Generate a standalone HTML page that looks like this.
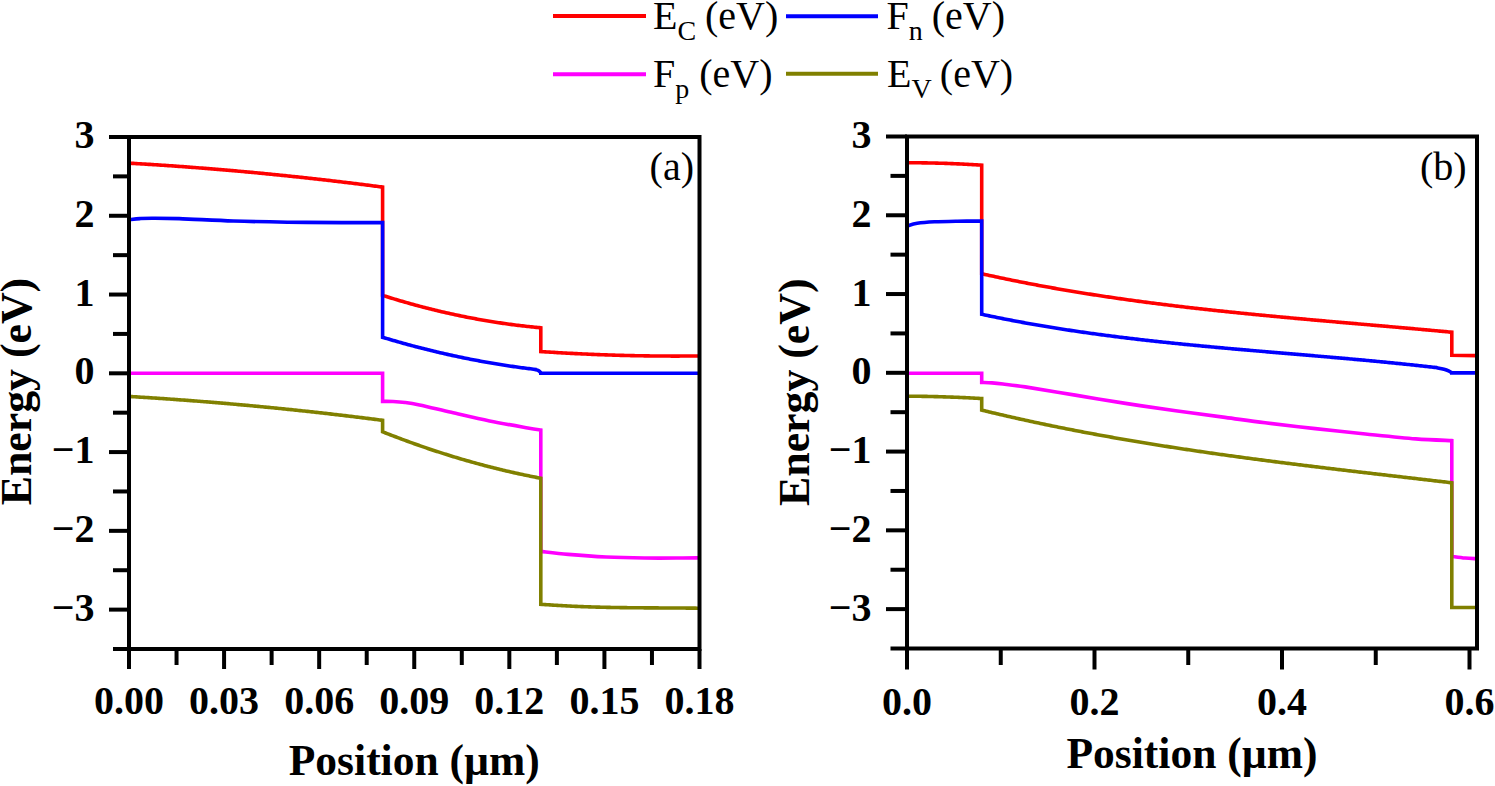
<!DOCTYPE html><html><head><meta charset="utf-8"><style>html,body{margin:0;padding:0;background:#fff;overflow:hidden}svg{display:block}</style></head><body><svg width="1495" height="786" viewBox="0 0 1495 786">
<defs>
<clipPath id="ca"><rect x="129" y="137" width="570.5" height="512"/></clipPath>
<clipPath id="cb"><rect x="907" y="136.5" width="570" height="512"/></clipPath>
</defs>
<rect width="1495" height="786" fill="#fff"/>
<path d="M129.00,163.15 L130.50,163.24 L132.00,163.33 L133.50,163.41 L135.00,163.50 L136.50,163.59 L138.00,163.68 L139.50,163.77 L141.00,163.86 L142.51,163.95 L144.01,164.05 L145.51,164.14 L147.01,164.23 L148.51,164.33 L150.01,164.42 L151.51,164.52 L153.01,164.61 L154.51,164.71 L156.01,164.81 L157.51,164.90 L159.01,165.00 L160.51,165.10 L162.01,165.20 L163.51,165.30 L165.01,165.41 L166.51,165.51 L168.02,165.61 L169.52,165.71 L171.02,165.82 L172.52,165.92 L174.02,166.03 L175.52,166.13 L177.02,166.24 L178.52,166.35 L180.02,166.46 L181.52,166.56 L183.02,166.67 L184.52,166.78 L186.02,166.89 L187.52,167.01 L189.02,167.12 L190.52,167.23 L192.02,167.34 L193.53,167.46 L195.03,167.57 L196.53,167.69 L198.03,167.80 L199.53,167.92 L201.03,168.04 L202.53,168.15 L204.03,168.27 L205.53,168.39 L207.03,168.51 L208.53,168.63 L210.03,168.75 L211.53,168.87 L213.03,169.00 L214.53,169.12 L216.03,169.24 L217.53,169.37 L219.04,169.49 L220.54,169.62 L222.04,169.75 L223.54,169.87 L225.04,170.00 L226.54,170.13 L228.04,170.26 L229.54,170.39 L231.04,170.52 L232.54,170.65 L234.04,170.78 L235.54,170.91 L237.04,171.05 L238.54,171.18 L240.04,171.31 L241.54,171.45 L243.04,171.58 L244.55,171.72 L246.05,171.86 L247.55,172.00 L249.05,172.13 L250.55,172.27 L252.05,172.41 L253.55,172.55 L255.05,172.69 L256.55,172.83 L258.05,172.98 L259.55,173.12 L261.05,173.26 L262.55,173.41 L264.05,173.55 L265.55,173.70 L267.05,173.84 L268.56,173.99 L270.06,174.14 L271.56,174.29 L273.06,174.44 L274.56,174.59 L276.06,174.74 L277.56,174.89 L279.06,175.04 L280.56,175.19 L282.06,175.34 L283.56,175.50 L285.06,175.65 L286.56,175.80 L288.06,175.96 L289.56,176.12 L291.06,176.27 L292.56,176.43 L294.07,176.59 L295.57,176.75 L297.07,176.91 L298.57,177.07 L300.07,177.23 L301.57,177.39 L303.07,177.55 L304.57,177.71 L306.07,177.88 L307.57,178.04 L309.07,178.20 L310.57,178.37 L312.07,178.54 L313.57,178.70 L315.07,178.87 L316.57,179.04 L318.07,179.21 L319.58,179.38 L321.08,179.55 L322.58,179.72 L324.08,179.89 L325.58,180.06 L327.08,180.23 L328.58,180.40 L330.08,180.58 L331.58,180.75 L333.08,180.93 L334.58,181.10 L336.08,181.28 L337.58,181.46 L339.08,181.63 L340.58,181.81 L342.08,181.99 L343.58,182.17 L345.09,182.35 L346.59,182.53 L348.09,182.72 L349.59,182.90 L351.09,183.08 L352.59,183.26 L354.09,183.45 L355.59,183.63 L357.09,183.82 L358.59,184.01 L360.09,184.19 L361.59,184.38 L363.09,184.57 L364.59,184.76 L366.09,184.95 L367.59,185.14 L369.09,185.33 L370.60,185.52 L372.10,185.71 L373.60,185.91 L375.10,186.10 L376.60,186.29 L378.10,186.49 L379.60,186.68 L381.10,186.88 L382.60,187.08L382.60,295.37 L384.11,295.85 L385.61,296.32 L387.12,296.79 L388.63,297.26 L390.13,297.73 L391.64,298.19 L393.15,298.65 L394.65,299.11 L396.16,299.56 L397.67,300.01 L399.17,300.46 L400.68,300.90 L402.19,301.34 L403.69,301.78 L405.20,302.21 L406.71,302.64 L408.21,303.07 L409.72,303.49 L411.23,303.91 L412.73,304.33 L414.24,304.75 L415.75,305.16 L417.25,305.56 L418.76,305.97 L420.27,306.37 L421.77,306.76 L423.28,307.16 L424.79,307.55 L426.29,307.94 L427.80,308.32 L429.31,308.70 L430.81,309.08 L432.32,309.45 L433.83,309.83 L435.33,310.19 L436.84,310.56 L438.35,310.92 L439.85,311.28 L441.36,311.63 L442.87,311.98 L444.37,312.33 L445.88,312.68 L447.39,313.02 L448.89,313.36 L450.40,313.69 L451.91,314.02 L453.41,314.35 L454.92,314.68 L456.43,315.00 L457.93,315.32 L459.44,315.63 L460.95,315.94 L462.45,316.25 L463.96,316.56 L465.47,316.86 L466.97,317.16 L468.48,317.45 L469.99,317.75 L471.49,318.04 L473.00,318.32 L474.51,318.60 L476.01,318.88 L477.52,319.16 L479.03,319.43 L480.53,319.70 L482.04,319.97 L483.55,320.23 L485.05,320.49 L486.56,320.75 L488.07,321.00 L489.57,321.25 L491.08,321.49 L492.59,321.74 L494.09,321.98 L495.60,322.21 L497.11,322.45 L498.61,322.68 L500.12,322.90 L501.63,323.13 L503.13,323.35 L504.64,323.56 L506.15,323.78 L507.65,323.99 L509.16,324.19 L510.67,324.40 L512.17,324.60 L513.68,324.79 L515.19,324.99 L516.69,325.18 L518.20,325.37 L519.71,325.55 L521.21,325.73 L522.72,325.91 L524.23,326.08 L525.73,326.25 L527.24,326.42 L528.75,326.58 L530.25,326.74 L531.76,326.90 L533.27,327.06 L534.77,327.21 L536.28,327.36 L537.79,327.50 L539.29,327.64 L540.80,327.78L540.80,351.54 L542.30,351.64 L543.80,351.74 L545.31,351.84 L546.81,351.94 L548.31,352.04 L549.81,352.13 L551.31,352.23 L552.82,352.32 L554.32,352.41 L555.82,352.50 L557.32,352.59 L558.82,352.68 L560.32,352.77 L561.83,352.85 L563.33,352.94 L564.83,353.02 L566.33,353.10 L567.83,353.18 L569.34,353.27 L570.84,353.34 L572.34,353.42 L573.84,353.50 L575.34,353.58 L576.85,353.65 L578.35,353.72 L579.85,353.80 L581.35,353.87 L582.85,353.94 L584.35,354.01 L585.86,354.07 L587.36,354.14 L588.86,354.21 L590.36,354.27 L591.86,354.34 L593.37,354.40 L594.87,354.46 L596.37,354.52 L597.87,354.58 L599.37,354.64 L600.88,354.69 L602.38,354.75 L603.88,354.80 L605.38,354.86 L606.88,354.91 L608.38,354.96 L609.89,355.01 L611.39,355.06 L612.89,355.10 L614.39,355.15 L615.89,355.20 L617.40,355.24 L618.90,355.28 L620.40,355.33 L621.90,355.37 L623.40,355.41 L624.91,355.44 L626.41,355.48 L627.91,355.52 L629.41,355.55 L630.91,355.59 L632.42,355.62 L633.92,355.65 L635.42,355.68 L636.92,355.71 L638.42,355.74 L639.92,355.77 L641.43,355.79 L642.93,355.82 L644.43,355.84 L645.93,355.86 L647.43,355.89 L648.94,355.91 L650.44,355.93 L651.94,355.94 L653.44,355.96 L654.94,355.98 L656.45,355.99 L657.95,356.00 L659.45,356.02 L660.95,356.03 L662.45,356.04 L663.95,356.05 L665.46,356.06 L666.96,356.06 L668.46,356.07 L669.96,356.07 L671.46,356.08 L672.97,356.08 L674.47,356.08 L675.97,356.08 L677.47,356.08 L678.97,356.08 L680.48,356.07 L681.98,356.07 L683.48,356.06 L684.98,356.06 L686.48,356.05 L687.98,356.04 L689.49,356.03 L690.99,356.02 L692.49,356.00 L693.99,355.99 L695.49,355.98 L697.00,355.96 L698.50,355.94 L700.00,355.92" fill="none" stroke="#ff0000" stroke-width="3.6" stroke-linejoin="miter" stroke-linecap="butt" clip-path="url(#ca)"/>
<path d="M129.00,219.80C130.83,219.60 136.17,218.87 140.00,218.60C143.83,218.33 145.47,218.20 152.00,218.20C158.53,218.20 165.63,218.13 179.20,218.60C192.77,219.07 215.35,220.40 233.40,221.00C251.45,221.60 269.45,221.93 287.50,222.20C305.55,222.47 325.85,222.53 341.70,222.60C357.55,222.67 375.78,222.60 382.60,222.60L382.60,337.29 L384.11,337.74 L385.62,338.19 L387.13,338.64 L388.64,339.09 L390.14,339.53 L391.65,339.98 L393.16,340.41 L394.67,340.85 L396.18,341.28 L397.69,341.71 L399.20,342.14 L400.71,342.57 L402.22,342.99 L403.72,343.41 L405.23,343.83 L406.74,344.24 L408.25,344.65 L409.76,345.06 L411.27,345.47 L412.78,345.87 L414.29,346.27 L415.80,346.67 L417.30,347.06 L418.81,347.45 L420.32,347.84 L421.83,348.23 L423.34,348.61 L424.85,348.99 L426.36,349.37 L427.87,349.75 L429.38,350.12 L430.89,350.49 L432.39,350.86 L433.90,351.22 L435.41,351.58 L436.92,351.94 L438.43,352.30 L439.94,352.65 L441.45,353.00 L442.96,353.35 L444.47,353.70 L445.97,354.04 L447.48,354.38 L448.99,354.72 L450.50,355.05 L452.01,355.38 L453.52,355.71 L455.03,356.04 L456.54,356.36 L458.05,356.68 L459.55,357.00 L461.06,357.31 L462.57,357.63 L464.08,357.94 L465.59,358.24 L467.10,358.55 L468.61,358.85 L470.12,359.15 L471.63,359.44 L473.13,359.74 L474.64,360.03 L476.15,360.31 L477.66,360.60 L479.17,360.88 L480.68,361.16 L482.19,361.44 L483.70,361.71 L485.21,361.98 L486.71,362.25 L488.22,362.51 L489.73,362.78 L491.24,363.04 L492.75,363.30 L494.26,363.55 L495.77,363.80 L497.28,364.05 L498.79,364.30 L500.30,364.54 L501.80,364.78 L503.31,365.02 L504.82,365.25 L506.33,365.49 L507.84,365.72 L509.35,365.94 L510.86,366.17 L512.37,366.39 L513.88,366.61 L515.38,366.82 L516.89,367.04 L518.40,367.25 L519.91,367.46 L521.42,367.66 L522.93,367.86 L524.44,368.06 L525.95,368.26 L527.46,368.45 L528.96,368.65 L530.47,368.83 L531.98,369.02 L533.49,369.20 L535.00,369.38L535.00,369.60C535.58,369.77 537.53,370.10 538.50,370.60C539.47,371.10 540.42,372.27 540.80,372.60L540.80,373.20L700.00,373.20" fill="none" stroke="#0000ff" stroke-width="3.6" stroke-linejoin="miter" stroke-linecap="butt" clip-path="url(#ca)"/>
<path d="M129.00,373.30L382.60,373.30L382.60,401.40C384.33,401.42 389.27,401.32 393.00,401.50C396.73,401.68 400.58,401.92 405.00,402.50C409.42,403.08 411.78,403.37 419.50,405.00C427.22,406.63 439.63,409.65 451.30,412.30C462.97,414.95 476.77,418.28 489.50,420.90C502.23,423.52 519.15,426.47 527.70,428.00C536.25,429.53 538.62,429.75 540.80,430.10L540.80,551.40C545.37,551.90 557.28,553.47 568.20,554.40C579.12,555.33 593.58,556.40 606.30,557.00C619.02,557.60 631.77,557.83 644.50,558.00C657.23,558.17 673.45,558.03 682.70,558.00C691.95,557.97 697.12,557.83 700.00,557.80" fill="none" stroke="#ff00ff" stroke-width="3.6" stroke-linejoin="miter" stroke-linecap="butt" clip-path="url(#ca)"/>
<path d="M129.00,396.44 L130.50,396.53 L132.00,396.62 L133.50,396.71 L135.00,396.81 L136.50,396.90 L138.00,396.99 L139.50,397.08 L141.00,397.18 L142.51,397.27 L144.01,397.37 L145.51,397.46 L147.01,397.56 L148.51,397.65 L150.01,397.75 L151.51,397.85 L153.01,397.95 L154.51,398.05 L156.01,398.15 L157.51,398.25 L159.01,398.35 L160.51,398.45 L162.01,398.55 L163.51,398.66 L165.01,398.76 L166.51,398.86 L168.02,398.97 L169.52,399.07 L171.02,399.18 L172.52,399.29 L174.02,399.39 L175.52,399.50 L177.02,399.61 L178.52,399.72 L180.02,399.83 L181.52,399.94 L183.02,400.05 L184.52,400.16 L186.02,400.27 L187.52,400.39 L189.02,400.50 L190.52,400.61 L192.02,400.73 L193.53,400.84 L195.03,400.96 L196.53,401.08 L198.03,401.19 L199.53,401.31 L201.03,401.43 L202.53,401.55 L204.03,401.67 L205.53,401.79 L207.03,401.91 L208.53,402.03 L210.03,402.15 L211.53,402.27 L213.03,402.40 L214.53,402.52 L216.03,402.65 L217.53,402.77 L219.04,402.90 L220.54,403.02 L222.04,403.15 L223.54,403.28 L225.04,403.41 L226.54,403.53 L228.04,403.66 L229.54,403.79 L231.04,403.93 L232.54,404.06 L234.04,404.19 L235.54,404.32 L237.04,404.45 L238.54,404.59 L240.04,404.72 L241.54,404.86 L243.04,404.99 L244.55,405.13 L246.05,405.27 L247.55,405.40 L249.05,405.54 L250.55,405.68 L252.05,405.82 L253.55,405.96 L255.05,406.10 L256.55,406.24 L258.05,406.38 L259.55,406.53 L261.05,406.67 L262.55,406.81 L264.05,406.96 L265.55,407.10 L267.05,407.25 L268.56,407.39 L270.06,407.54 L271.56,407.69 L273.06,407.83 L274.56,407.98 L276.06,408.13 L277.56,408.28 L279.06,408.43 L280.56,408.58 L282.06,408.74 L283.56,408.89 L285.06,409.04 L286.56,409.19 L288.06,409.35 L289.56,409.50 L291.06,409.66 L292.56,409.81 L294.07,409.97 L295.57,410.13 L297.07,410.29 L298.57,410.44 L300.07,410.60 L301.57,410.76 L303.07,410.92 L304.57,411.08 L306.07,411.25 L307.57,411.41 L309.07,411.57 L310.57,411.73 L312.07,411.90 L313.57,412.06 L315.07,412.23 L316.57,412.39 L318.07,412.56 L319.58,412.73 L321.08,412.90 L322.58,413.06 L324.08,413.23 L325.58,413.40 L327.08,413.57 L328.58,413.74 L330.08,413.91 L331.58,414.09 L333.08,414.26 L334.58,414.43 L336.08,414.61 L337.58,414.78 L339.08,414.96 L340.58,415.13 L342.08,415.31 L343.58,415.49 L345.09,415.66 L346.59,415.84 L348.09,416.02 L349.59,416.20 L351.09,416.38 L352.59,416.56 L354.09,416.74 L355.59,416.92 L357.09,417.11 L358.59,417.29 L360.09,417.47 L361.59,417.66 L363.09,417.84 L364.59,418.03 L366.09,418.21 L367.59,418.40 L369.09,418.59 L370.60,418.78 L372.10,418.96 L373.60,419.15 L375.10,419.34 L376.60,419.53 L378.10,419.73 L379.60,419.92 L381.10,420.11 L382.60,420.30L382.60,431.77 L384.11,432.37 L385.61,432.97 L387.12,433.56 L388.63,434.15 L390.13,434.73 L391.64,435.32 L393.15,435.90 L394.65,436.47 L396.16,437.05 L397.67,437.62 L399.17,438.19 L400.68,438.75 L402.19,439.32 L403.69,439.88 L405.20,440.43 L406.71,440.99 L408.21,441.54 L409.72,442.08 L411.23,442.63 L412.73,443.17 L414.24,443.71 L415.75,444.24 L417.25,444.78 L418.76,445.30 L420.27,445.83 L421.77,446.35 L423.28,446.87 L424.79,447.39 L426.29,447.91 L427.80,448.42 L429.31,448.93 L430.81,449.43 L432.32,449.93 L433.83,450.43 L435.33,450.93 L436.84,451.42 L438.35,451.91 L439.85,452.40 L441.36,452.89 L442.87,453.37 L444.37,453.85 L445.88,454.32 L447.39,454.79 L448.89,455.26 L450.40,455.73 L451.91,456.19 L453.41,456.66 L454.92,457.11 L456.43,457.57 L457.93,458.02 L459.44,458.47 L460.95,458.91 L462.45,459.36 L463.96,459.80 L465.47,460.23 L466.97,460.67 L468.48,461.10 L469.99,461.52 L471.49,461.95 L473.00,462.37 L474.51,462.79 L476.01,463.20 L477.52,463.62 L479.03,464.03 L480.53,464.43 L482.04,464.84 L483.55,465.24 L485.05,465.64 L486.56,466.03 L488.07,466.42 L489.57,466.81 L491.08,467.20 L492.59,467.58 L494.09,467.96 L495.60,468.33 L497.11,468.71 L498.61,469.08 L500.12,469.45 L501.63,469.81 L503.13,470.17 L504.64,470.53 L506.15,470.89 L507.65,471.24 L509.16,471.59 L510.67,471.94 L512.17,472.28 L513.68,472.62 L515.19,472.96 L516.69,473.29 L518.20,473.63 L519.71,473.95 L521.21,474.28 L522.72,474.60 L524.23,474.92 L525.73,475.24 L527.24,475.55 L528.75,475.86 L530.25,476.17 L531.76,476.48 L533.27,476.78 L534.77,477.08 L536.28,477.37 L537.79,477.67 L539.29,477.96 L540.80,478.24L540.80,604.24 L542.30,604.35 L543.80,604.47 L545.31,604.58 L546.81,604.69 L548.31,604.80 L549.81,604.90 L551.31,605.01 L552.82,605.11 L554.32,605.20 L555.82,605.30 L557.32,605.39 L558.82,605.48 L560.32,605.57 L561.83,605.66 L563.33,605.74 L564.83,605.82 L566.33,605.90 L567.83,605.98 L569.34,606.05 L570.84,606.12 L572.34,606.20 L573.84,606.26 L575.34,606.33 L576.85,606.40 L578.35,606.46 L579.85,606.52 L581.35,606.58 L582.85,606.64 L584.35,606.69 L585.86,606.75 L587.36,606.80 L588.86,606.85 L590.36,606.90 L591.86,606.94 L593.37,606.99 L594.87,607.03 L596.37,607.08 L597.87,607.12 L599.37,607.16 L600.88,607.20 L602.38,607.23 L603.88,607.27 L605.38,607.30 L606.88,607.34 L608.38,607.37 L609.89,607.40 L611.39,607.43 L612.89,607.46 L614.39,607.48 L615.89,607.51 L617.40,607.53 L618.90,607.56 L620.40,607.58 L621.90,607.60 L623.40,607.62 L624.91,607.64 L626.41,607.66 L627.91,607.68 L629.41,607.70 L630.91,607.71 L632.42,607.73 L633.92,607.74 L635.42,607.76 L636.92,607.77 L638.42,607.79 L639.92,607.80 L641.43,607.81 L642.93,607.82 L644.43,607.83 L645.93,607.84 L647.43,607.85 L648.94,607.86 L650.44,607.87 L651.94,607.88 L653.44,607.89 L654.94,607.90 L656.45,607.91 L657.95,607.92 L659.45,607.93 L660.95,607.93 L662.45,607.94 L663.95,607.95 L665.46,607.96 L666.96,607.97 L668.46,607.97 L669.96,607.98 L671.46,607.99 L672.97,608.00 L674.47,608.01 L675.97,608.02 L677.47,608.03 L678.97,608.03 L680.48,608.04 L681.98,608.05 L683.48,608.06 L684.98,608.07 L686.48,608.09 L687.98,608.10 L689.49,608.11 L690.99,608.12 L692.49,608.13 L693.99,608.15 L695.49,608.16 L697.00,608.18 L698.50,608.19 L700.00,608.21" fill="none" stroke="#808000" stroke-width="3.6" stroke-linejoin="miter" stroke-linecap="butt" clip-path="url(#ca)"/>
<path d="M907.00,162.75 L908.52,162.75 L910.05,162.75 L911.57,162.76 L913.10,162.76 L914.62,162.77 L916.15,162.78 L917.67,162.79 L919.20,162.81 L920.72,162.82 L922.24,162.84 L923.77,162.86 L925.29,162.89 L926.82,162.91 L928.34,162.94 L929.87,162.97 L931.39,163.00 L932.92,163.03 L934.44,163.06 L935.97,163.10 L937.49,163.14 L939.01,163.18 L940.54,163.22 L942.06,163.27 L943.59,163.31 L945.11,163.36 L946.64,163.41 L948.16,163.47 L949.69,163.52 L951.21,163.58 L952.73,163.64 L954.26,163.70 L955.78,163.76 L957.31,163.83 L958.83,163.90 L960.36,163.97 L961.88,164.04 L963.41,164.11 L964.93,164.19 L966.46,164.27 L967.98,164.34 L969.50,164.43 L971.03,164.51 L972.55,164.60 L974.08,164.68 L975.60,164.77 L977.13,164.87 L978.65,164.96 L980.18,165.06 L981.70,165.16L981.70,273.72 L983.20,274.06 L984.70,274.39 L986.21,274.73 L987.71,275.06 L989.21,275.39 L990.71,275.71 L992.21,276.04 L993.72,276.36 L995.22,276.69 L996.72,277.01 L998.22,277.33 L999.72,277.65 L1001.22,277.96 L1002.73,278.28 L1004.23,278.59 L1005.73,278.90 L1007.23,279.21 L1008.73,279.52 L1010.24,279.83 L1011.74,280.14 L1013.24,280.44 L1014.74,280.75 L1016.24,281.05 L1017.75,281.35 L1019.25,281.65 L1020.75,281.94 L1022.25,282.24 L1023.75,282.53 L1025.26,282.83 L1026.76,283.12 L1028.26,283.41 L1029.76,283.70 L1031.26,283.98 L1032.77,284.27 L1034.27,284.55 L1035.77,284.84 L1037.27,285.12 L1038.77,285.40 L1040.27,285.68 L1041.78,285.95 L1043.28,286.23 L1044.78,286.51 L1046.28,286.78 L1047.78,287.05 L1049.29,287.32 L1050.79,287.59 L1052.29,287.86 L1053.79,288.13 L1055.29,288.39 L1056.80,288.65 L1058.30,288.92 L1059.80,289.18 L1061.30,289.44 L1062.80,289.70 L1064.31,289.96 L1065.81,290.21 L1067.31,290.47 L1068.81,290.72 L1070.31,290.97 L1071.82,291.22 L1073.32,291.47 L1074.82,291.72 L1076.32,291.97 L1077.82,292.22 L1079.32,292.46 L1080.83,292.71 L1082.33,292.95 L1083.83,293.19 L1085.33,293.43 L1086.83,293.67 L1088.34,293.91 L1089.84,294.15 L1091.34,294.38 L1092.84,294.62 L1094.34,294.85 L1095.85,295.08 L1097.35,295.31 L1098.85,295.54 L1100.35,295.77 L1101.85,296.00 L1103.36,296.23 L1104.86,296.45 L1106.36,296.68 L1107.86,296.90 L1109.36,297.12 L1110.86,297.34 L1112.37,297.56 L1113.87,297.78 L1115.37,298.00 L1116.87,298.22 L1118.37,298.43 L1119.88,298.65 L1121.38,298.86 L1122.88,299.07 L1124.38,299.29 L1125.88,299.50 L1127.39,299.71 L1128.89,299.91 L1130.39,300.12 L1131.89,300.33 L1133.39,300.54 L1134.90,300.74 L1136.40,300.94 L1137.90,301.15 L1139.40,301.35 L1140.90,301.55 L1142.41,301.75 L1143.91,301.95 L1145.41,302.15 L1146.91,302.34 L1148.41,302.54 L1149.91,302.74 L1151.42,302.93 L1152.92,303.12 L1154.42,303.32 L1155.92,303.51 L1157.42,303.70 L1158.93,303.89 L1160.43,304.08 L1161.93,304.27 L1163.43,304.45 L1164.93,304.64 L1166.44,304.83 L1167.94,305.01 L1169.44,305.19 L1170.94,305.38 L1172.44,305.56 L1173.95,305.74 L1175.45,305.92 L1176.95,306.10 L1178.45,306.28 L1179.95,306.46 L1181.45,306.64 L1182.96,306.82 L1184.46,306.99 L1185.96,307.17 L1187.46,307.34 L1188.96,307.51 L1190.47,307.69 L1191.97,307.86 L1193.47,308.03 L1194.97,308.20 L1196.47,308.37 L1197.98,308.54 L1199.48,308.71 L1200.98,308.88 L1202.48,309.05 L1203.98,309.21 L1205.49,309.38 L1206.99,309.55 L1208.49,309.71 L1209.99,309.87 L1211.49,310.04 L1213.00,310.20 L1214.50,310.36 L1216.00,310.52 L1217.50,310.68 L1219.00,310.84 L1220.50,311.00 L1222.01,311.16 L1223.51,311.32 L1225.01,311.48 L1226.51,311.64 L1228.01,311.79 L1229.52,311.95 L1231.02,312.11 L1232.52,312.26 L1234.02,312.41 L1235.52,312.57 L1237.03,312.72 L1238.53,312.87 L1240.03,313.03 L1241.53,313.18 L1243.03,313.33 L1244.54,313.48 L1246.04,313.63 L1247.54,313.78 L1249.04,313.93 L1250.54,314.08 L1252.05,314.23 L1253.55,314.37 L1255.05,314.52 L1256.55,314.67 L1258.05,314.81 L1259.55,314.96 L1261.06,315.11 L1262.56,315.25 L1264.06,315.40 L1265.56,315.54 L1267.06,315.68 L1268.57,315.83 L1270.07,315.97 L1271.57,316.11 L1273.07,316.25 L1274.57,316.40 L1276.08,316.54 L1277.58,316.68 L1279.08,316.82 L1280.58,316.96 L1282.08,317.10 L1283.59,317.24 L1285.09,317.38 L1286.59,317.52 L1288.09,317.66 L1289.59,317.79 L1291.09,317.93 L1292.60,318.07 L1294.10,318.21 L1295.60,318.34 L1297.10,318.48 L1298.60,318.62 L1300.11,318.75 L1301.61,318.89 L1303.11,319.03 L1304.61,319.16 L1306.11,319.30 L1307.62,319.43 L1309.12,319.57 L1310.62,319.70 L1312.12,319.84 L1313.62,319.97 L1315.13,320.10 L1316.63,320.24 L1318.13,320.37 L1319.63,320.50 L1321.13,320.64 L1322.64,320.77 L1324.14,320.90 L1325.64,321.03 L1327.14,321.17 L1328.64,321.30 L1330.14,321.43 L1331.65,321.56 L1333.15,321.70 L1334.65,321.83 L1336.15,321.96 L1337.65,322.09 L1339.16,322.22 L1340.66,322.35 L1342.16,322.48 L1343.66,322.61 L1345.16,322.75 L1346.67,322.88 L1348.17,323.01 L1349.67,323.14 L1351.17,323.27 L1352.67,323.40 L1354.18,323.53 L1355.68,323.66 L1357.18,323.79 L1358.68,323.92 L1360.18,324.05 L1361.68,324.18 L1363.19,324.31 L1364.69,324.44 L1366.19,324.57 L1367.69,324.70 L1369.19,324.83 L1370.70,324.97 L1372.20,325.10 L1373.70,325.23 L1375.20,325.36 L1376.70,325.49 L1378.21,325.62 L1379.71,325.75 L1381.21,325.88 L1382.71,326.01 L1384.21,326.14 L1385.72,326.27 L1387.22,326.40 L1388.72,326.54 L1390.22,326.67 L1391.72,326.80 L1393.23,326.93 L1394.73,327.06 L1396.23,327.19 L1397.73,327.33 L1399.23,327.46 L1400.73,327.59 L1402.24,327.72 L1403.74,327.86 L1405.24,327.99 L1406.74,328.12 L1408.24,328.26 L1409.75,328.39 L1411.25,328.52 L1412.75,328.66 L1414.25,328.79 L1415.75,328.92 L1417.26,329.06 L1418.76,329.19 L1420.26,329.33 L1421.76,329.46 L1423.26,329.60 L1424.77,329.73 L1426.27,329.87 L1427.77,330.01 L1429.27,330.14 L1430.77,330.28 L1432.28,330.42 L1433.78,330.55 L1435.28,330.69 L1436.78,330.83 L1438.28,330.97 L1439.78,331.11 L1441.29,331.25 L1442.79,331.38 L1444.29,331.52 L1445.79,331.66 L1447.29,331.80 L1448.80,331.94 L1450.30,332.09 L1451.80,332.23L1451.80,355.30L1477.00,355.60" fill="none" stroke="#ff0000" stroke-width="3.6" stroke-linejoin="miter" stroke-linecap="butt" clip-path="url(#cb)"/>
<path d="M907.00,226.00C908.70,225.55 912.63,224.00 917.20,223.30C921.77,222.60 927.72,222.15 934.40,221.80C941.08,221.45 949.42,221.33 957.30,221.20C965.18,221.07 977.63,221.03 981.70,221.00L981.70,314.27 L983.20,314.59 L984.71,314.91 L986.21,315.23 L987.72,315.55 L989.22,315.87 L990.73,316.18 L992.23,316.49 L993.73,316.80 L995.24,317.11 L996.74,317.42 L998.25,317.72 L999.75,318.03 L1001.26,318.33 L1002.76,318.63 L1004.26,318.92 L1005.77,319.22 L1007.27,319.51 L1008.78,319.81 L1010.28,320.10 L1011.79,320.39 L1013.29,320.67 L1014.79,320.96 L1016.30,321.24 L1017.80,321.52 L1019.31,321.80 L1020.81,322.08 L1022.32,322.36 L1023.82,322.63 L1025.32,322.91 L1026.83,323.18 L1028.33,323.45 L1029.84,323.72 L1031.34,323.98 L1032.85,324.25 L1034.35,324.51 L1035.85,324.77 L1037.36,325.03 L1038.86,325.29 L1040.37,325.55 L1041.87,325.80 L1043.38,326.06 L1044.88,326.31 L1046.39,326.56 L1047.89,326.81 L1049.39,327.06 L1050.90,327.30 L1052.40,327.55 L1053.91,327.79 L1055.41,328.03 L1056.92,328.27 L1058.42,328.51 L1059.92,328.75 L1061.43,328.99 L1062.93,329.22 L1064.44,329.45 L1065.94,329.69 L1067.45,329.92 L1068.95,330.15 L1070.45,330.37 L1071.96,330.60 L1073.46,330.82 L1074.97,331.05 L1076.47,331.27 L1077.98,331.49 L1079.48,331.71 L1080.98,331.93 L1082.49,332.15 L1083.99,332.36 L1085.50,332.58 L1087.00,332.79 L1088.51,333.00 L1090.01,333.21 L1091.51,333.42 L1093.02,333.63 L1094.52,333.83 L1096.03,334.04 L1097.53,334.24 L1099.04,334.45 L1100.54,334.65 L1102.04,334.85 L1103.55,335.05 L1105.05,335.25 L1106.56,335.44 L1108.06,335.64 L1109.57,335.84 L1111.07,336.03 L1112.57,336.22 L1114.08,336.41 L1115.58,336.60 L1117.09,336.79 L1118.59,336.98 L1120.10,337.17 L1121.60,337.36 L1123.10,337.54 L1124.61,337.72 L1126.11,337.91 L1127.62,338.09 L1129.12,338.27 L1130.63,338.45 L1132.13,338.63 L1133.63,338.81 L1135.14,338.98 L1136.64,339.16 L1138.15,339.34 L1139.65,339.51 L1141.16,339.68 L1142.66,339.85 L1144.16,340.03 L1145.67,340.20 L1147.17,340.37 L1148.68,340.53 L1150.18,340.70 L1151.69,340.87 L1153.19,341.04 L1154.70,341.20 L1156.20,341.36 L1157.70,341.53 L1159.21,341.69 L1160.71,341.85 L1162.22,342.01 L1163.72,342.17 L1165.23,342.33 L1166.73,342.49 L1168.23,342.65 L1169.74,342.81 L1171.24,342.96 L1172.75,343.12 L1174.25,343.27 L1175.76,343.43 L1177.26,343.58 L1178.76,343.73 L1180.27,343.89 L1181.77,344.04 L1183.28,344.19 L1184.78,344.34 L1186.29,344.49 L1187.79,344.64 L1189.29,344.78 L1190.80,344.93 L1192.30,345.08 L1193.81,345.22 L1195.31,345.37 L1196.82,345.52 L1198.32,345.66 L1199.82,345.80 L1201.33,345.95 L1202.83,346.09 L1204.34,346.23 L1205.84,346.37 L1207.35,346.51 L1208.85,346.66 L1210.35,346.80 L1211.86,346.94 L1213.36,347.07 L1214.87,347.21 L1216.37,347.35 L1217.88,347.49 L1219.38,347.63 L1220.88,347.76 L1222.39,347.90 L1223.89,348.04 L1225.40,348.17 L1226.90,348.31 L1228.41,348.44 L1229.91,348.58 L1231.41,348.71 L1232.92,348.84 L1234.42,348.98 L1235.93,349.11 L1237.43,349.24 L1238.94,349.37 L1240.44,349.51 L1241.94,349.64 L1243.45,349.77 L1244.95,349.90 L1246.46,350.03 L1247.96,350.16 L1249.47,350.29 L1250.97,350.42 L1252.47,350.55 L1253.98,350.68 L1255.48,350.81 L1256.99,350.94 L1258.49,351.07 L1260.00,351.20 L1261.50,351.33 L1263.00,351.46 L1264.51,351.58 L1266.01,351.71 L1267.52,351.84 L1269.02,351.97 L1270.53,352.10 L1272.03,352.22 L1273.54,352.35 L1275.04,352.48 L1276.54,352.61 L1278.05,352.73 L1279.55,352.86 L1281.06,352.99 L1282.56,353.11 L1284.07,353.24 L1285.57,353.37 L1287.07,353.49 L1288.58,353.62 L1290.08,353.75 L1291.59,353.88 L1293.09,354.00 L1294.60,354.13 L1296.10,354.26 L1297.60,354.38 L1299.11,354.51 L1300.61,354.64 L1302.12,354.77 L1303.62,354.89 L1305.13,355.02 L1306.63,355.15 L1308.13,355.28 L1309.64,355.40 L1311.14,355.53 L1312.65,355.66 L1314.15,355.79 L1315.66,355.92 L1317.16,356.04 L1318.66,356.17 L1320.17,356.30 L1321.67,356.43 L1323.18,356.56 L1324.68,356.69 L1326.19,356.82 L1327.69,356.95 L1329.19,357.08 L1330.70,357.21 L1332.20,357.34 L1333.71,357.47 L1335.21,357.60 L1336.72,357.73 L1338.22,357.87 L1339.72,358.00 L1341.23,358.13 L1342.73,358.26 L1344.24,358.40 L1345.74,358.53 L1347.25,358.66 L1348.75,358.80 L1350.25,358.93 L1351.76,359.07 L1353.26,359.20 L1354.77,359.34 L1356.27,359.47 L1357.78,359.61 L1359.28,359.75 L1360.78,359.88 L1362.29,360.02 L1363.79,360.16 L1365.30,360.30 L1366.80,360.44 L1368.31,360.58 L1369.81,360.72 L1371.31,360.86 L1372.82,361.00 L1374.32,361.14 L1375.83,361.29 L1377.33,361.43 L1378.84,361.57 L1380.34,361.72 L1381.85,361.86 L1383.35,362.01 L1384.85,362.15 L1386.36,362.30 L1387.86,362.44 L1389.37,362.59 L1390.87,362.74 L1392.38,362.89 L1393.88,363.04 L1395.38,363.19 L1396.89,363.34 L1398.39,363.49 L1399.90,363.64 L1401.40,363.80 L1402.91,363.95 L1404.41,364.10 L1405.91,364.26 L1407.42,364.42 L1408.92,364.57 L1410.43,364.73 L1411.93,364.89 L1413.44,365.05 L1414.94,365.21 L1416.44,365.37 L1417.95,365.53 L1419.45,365.69 L1420.96,365.85 L1422.46,366.02 L1423.97,366.18 L1425.47,366.35 L1426.97,366.51 L1428.48,366.68 L1429.98,366.85 L1431.49,367.02 L1432.99,367.19 L1434.50,367.36 L1436.00,367.53L1436.00,367.60C1437.33,367.87 1441.82,368.62 1444.00,369.20C1446.18,369.78 1447.80,370.50 1449.10,371.10C1450.40,371.70 1451.35,372.52 1451.80,372.80L1451.80,372.90L1477.00,372.90" fill="none" stroke="#0000ff" stroke-width="3.6" stroke-linejoin="miter" stroke-linecap="butt" clip-path="url(#cb)"/>
<path d="M907.00,373.20L981.70,373.20L981.70,382.50C983.42,382.57 988.45,382.65 992.00,382.90C995.55,383.15 997.47,383.33 1003.00,384.00C1008.53,384.67 1013.15,385.05 1025.20,386.90C1037.25,388.75 1058.58,392.35 1075.30,395.10C1092.02,397.85 1108.77,400.78 1125.50,403.40C1142.23,406.02 1159.12,408.47 1175.70,410.80C1192.28,413.13 1210.08,415.40 1225.00,417.40C1239.92,419.40 1250.15,420.93 1265.20,422.80C1280.25,424.67 1298.58,426.73 1315.30,428.60C1332.02,430.47 1348.77,432.28 1365.50,434.00C1382.23,435.72 1401.32,437.80 1415.70,438.90C1430.08,440.00 1445.78,440.32 1451.80,440.60L1451.80,556.30C1454.00,556.58 1460.80,557.60 1465.00,558.00C1469.20,558.40 1475.00,558.58 1477.00,558.70" fill="none" stroke="#ff00ff" stroke-width="3.6" stroke-linejoin="miter" stroke-linecap="butt" clip-path="url(#cb)"/>
<path d="M907.00,396.18 L908.52,396.19 L910.05,396.20 L911.57,396.21 L913.10,396.22 L914.62,396.23 L916.15,396.25 L917.67,396.27 L919.20,396.29 L920.72,396.31 L922.24,396.33 L923.77,396.36 L925.29,396.38 L926.82,396.41 L928.34,396.44 L929.87,396.47 L931.39,396.51 L932.92,396.54 L934.44,396.58 L935.97,396.61 L937.49,396.65 L939.01,396.70 L940.54,396.74 L942.06,396.78 L943.59,396.83 L945.11,396.88 L946.64,396.93 L948.16,396.98 L949.69,397.03 L951.21,397.09 L952.73,397.14 L954.26,397.20 L955.78,397.26 L957.31,397.32 L958.83,397.38 L960.36,397.45 L961.88,397.51 L963.41,397.58 L964.93,397.65 L966.46,397.72 L967.98,397.80 L969.50,397.87 L971.03,397.95 L972.55,398.02 L974.08,398.10 L975.60,398.18 L977.13,398.27 L978.65,398.35 L980.18,398.44 L981.70,398.53L981.70,410.11 L983.20,410.48 L984.70,410.84 L986.21,411.20 L987.71,411.57 L989.21,411.93 L990.71,412.29 L992.21,412.64 L993.72,413.00 L995.22,413.36 L996.72,413.71 L998.22,414.06 L999.72,414.41 L1001.22,414.76 L1002.73,415.11 L1004.23,415.46 L1005.73,415.81 L1007.23,416.15 L1008.73,416.50 L1010.24,416.84 L1011.74,417.18 L1013.24,417.52 L1014.74,417.86 L1016.24,418.19 L1017.75,418.53 L1019.25,418.87 L1020.75,419.20 L1022.25,419.53 L1023.75,419.86 L1025.26,420.19 L1026.76,420.52 L1028.26,420.85 L1029.76,421.17 L1031.26,421.50 L1032.77,421.82 L1034.27,422.15 L1035.77,422.47 L1037.27,422.79 L1038.77,423.11 L1040.27,423.42 L1041.78,423.74 L1043.28,424.06 L1044.78,424.37 L1046.28,424.68 L1047.78,425.00 L1049.29,425.31 L1050.79,425.62 L1052.29,425.92 L1053.79,426.23 L1055.29,426.54 L1056.80,426.84 L1058.30,427.15 L1059.80,427.45 L1061.30,427.75 L1062.80,428.05 L1064.31,428.35 L1065.81,428.65 L1067.31,428.95 L1068.81,429.24 L1070.31,429.54 L1071.82,429.83 L1073.32,430.13 L1074.82,430.42 L1076.32,430.71 L1077.82,431.00 L1079.32,431.29 L1080.83,431.57 L1082.33,431.86 L1083.83,432.15 L1085.33,432.43 L1086.83,432.72 L1088.34,433.00 L1089.84,433.28 L1091.34,433.56 L1092.84,433.84 L1094.34,434.12 L1095.85,434.39 L1097.35,434.67 L1098.85,434.95 L1100.35,435.22 L1101.85,435.49 L1103.36,435.77 L1104.86,436.04 L1106.36,436.31 L1107.86,436.58 L1109.36,436.85 L1110.86,437.12 L1112.37,437.38 L1113.87,437.65 L1115.37,437.91 L1116.87,438.18 L1118.37,438.44 L1119.88,438.70 L1121.38,438.96 L1122.88,439.22 L1124.38,439.48 L1125.88,439.74 L1127.39,440.00 L1128.89,440.25 L1130.39,440.51 L1131.89,440.77 L1133.39,441.02 L1134.90,441.27 L1136.40,441.52 L1137.90,441.78 L1139.40,442.03 L1140.90,442.28 L1142.41,442.52 L1143.91,442.77 L1145.41,443.02 L1146.91,443.27 L1148.41,443.51 L1149.91,443.76 L1151.42,444.00 L1152.92,444.24 L1154.42,444.49 L1155.92,444.73 L1157.42,444.97 L1158.93,445.21 L1160.43,445.45 L1161.93,445.68 L1163.43,445.92 L1164.93,446.16 L1166.44,446.39 L1167.94,446.63 L1169.44,446.86 L1170.94,447.10 L1172.44,447.33 L1173.95,447.56 L1175.45,447.79 L1176.95,448.02 L1178.45,448.25 L1179.95,448.48 L1181.45,448.71 L1182.96,448.94 L1184.46,449.16 L1185.96,449.39 L1187.46,449.62 L1188.96,449.84 L1190.47,450.06 L1191.97,450.29 L1193.47,450.51 L1194.97,450.73 L1196.47,450.95 L1197.98,451.17 L1199.48,451.39 L1200.98,451.61 L1202.48,451.83 L1203.98,452.05 L1205.49,452.27 L1206.99,452.49 L1208.49,452.70 L1209.99,452.92 L1211.49,453.13 L1213.00,453.35 L1214.50,453.56 L1216.00,453.77 L1217.50,453.98 L1219.00,454.20 L1220.50,454.41 L1222.01,454.62 L1223.51,454.83 L1225.01,455.04 L1226.51,455.25 L1228.01,455.45 L1229.52,455.66 L1231.02,455.87 L1232.52,456.08 L1234.02,456.28 L1235.52,456.49 L1237.03,456.69 L1238.53,456.90 L1240.03,457.10 L1241.53,457.30 L1243.03,457.51 L1244.54,457.71 L1246.04,457.91 L1247.54,458.11 L1249.04,458.31 L1250.54,458.51 L1252.05,458.71 L1253.55,458.91 L1255.05,459.11 L1256.55,459.31 L1258.05,459.51 L1259.55,459.70 L1261.06,459.90 L1262.56,460.10 L1264.06,460.29 L1265.56,460.49 L1267.06,460.68 L1268.57,460.88 L1270.07,461.07 L1271.57,461.26 L1273.07,461.46 L1274.57,461.65 L1276.08,461.84 L1277.58,462.04 L1279.08,462.23 L1280.58,462.42 L1282.08,462.61 L1283.59,462.80 L1285.09,462.99 L1286.59,463.18 L1288.09,463.37 L1289.59,463.56 L1291.09,463.75 L1292.60,463.93 L1294.10,464.12 L1295.60,464.31 L1297.10,464.50 L1298.60,464.68 L1300.11,464.87 L1301.61,465.05 L1303.11,465.24 L1304.61,465.43 L1306.11,465.61 L1307.62,465.80 L1309.12,465.98 L1310.62,466.16 L1312.12,466.35 L1313.62,466.53 L1315.13,466.71 L1316.63,466.90 L1318.13,467.08 L1319.63,467.26 L1321.13,467.44 L1322.64,467.63 L1324.14,467.81 L1325.64,467.99 L1327.14,468.17 L1328.64,468.35 L1330.14,468.53 L1331.65,468.71 L1333.15,468.89 L1334.65,469.07 L1336.15,469.25 L1337.65,469.43 L1339.16,469.61 L1340.66,469.79 L1342.16,469.97 L1343.66,470.15 L1345.16,470.32 L1346.67,470.50 L1348.17,470.68 L1349.67,470.86 L1351.17,471.04 L1352.67,471.21 L1354.18,471.39 L1355.68,471.57 L1357.18,471.74 L1358.68,471.92 L1360.18,472.10 L1361.68,472.27 L1363.19,472.45 L1364.69,472.63 L1366.19,472.80 L1367.69,472.98 L1369.19,473.16 L1370.70,473.33 L1372.20,473.51 L1373.70,473.68 L1375.20,473.86 L1376.70,474.03 L1378.21,474.21 L1379.71,474.38 L1381.21,474.56 L1382.71,474.73 L1384.21,474.91 L1385.72,475.08 L1387.22,475.26 L1388.72,475.43 L1390.22,475.61 L1391.72,475.78 L1393.23,475.96 L1394.73,476.13 L1396.23,476.31 L1397.73,476.48 L1399.23,476.66 L1400.73,476.83 L1402.24,477.01 L1403.74,477.18 L1405.24,477.35 L1406.74,477.53 L1408.24,477.70 L1409.75,477.88 L1411.25,478.05 L1412.75,478.23 L1414.25,478.40 L1415.75,478.58 L1417.26,478.75 L1418.76,478.93 L1420.26,479.10 L1421.76,479.27 L1423.26,479.45 L1424.77,479.62 L1426.27,479.80 L1427.77,479.97 L1429.27,480.15 L1430.77,480.33 L1432.28,480.50 L1433.78,480.68 L1435.28,480.85 L1436.78,481.03 L1438.28,481.20 L1439.78,481.38 L1441.29,481.55 L1442.79,481.73 L1444.29,481.91 L1445.79,482.08 L1447.29,482.26 L1448.80,482.44 L1450.30,482.61 L1451.80,482.79L1451.80,607.50L1477.00,607.50" fill="none" stroke="#808000" stroke-width="3.6" stroke-linejoin="miter" stroke-linecap="butt" clip-path="url(#cb)"/>
<line x1="109" y1="137.00" x2="129" y2="137.00" stroke="#000" stroke-width="4.0"/>
<line x1="109" y1="215.77" x2="129" y2="215.77" stroke="#000" stroke-width="4.0"/>
<line x1="109" y1="294.54" x2="129" y2="294.54" stroke="#000" stroke-width="4.0"/>
<line x1="109" y1="373.31" x2="129" y2="373.31" stroke="#000" stroke-width="4.0"/>
<line x1="109" y1="452.08" x2="129" y2="452.08" stroke="#000" stroke-width="4.0"/>
<line x1="109" y1="530.85" x2="129" y2="530.85" stroke="#000" stroke-width="4.0"/>
<line x1="109" y1="609.62" x2="129" y2="609.62" stroke="#000" stroke-width="4.0"/>
<line x1="113" y1="176.38" x2="129" y2="176.38" stroke="#000" stroke-width="4.0"/>
<line x1="113" y1="255.15" x2="129" y2="255.15" stroke="#000" stroke-width="4.0"/>
<line x1="113" y1="333.92" x2="129" y2="333.92" stroke="#000" stroke-width="4.0"/>
<line x1="113" y1="412.69" x2="129" y2="412.69" stroke="#000" stroke-width="4.0"/>
<line x1="113" y1="491.46" x2="129" y2="491.46" stroke="#000" stroke-width="4.0"/>
<line x1="113" y1="570.23" x2="129" y2="570.23" stroke="#000" stroke-width="4.0"/>
<line x1="113" y1="649.00" x2="129" y2="649.00" stroke="#000" stroke-width="4.0"/>
<line x1="129.00" y1="649" x2="129.00" y2="669" stroke="#000" stroke-width="4.0"/>
<line x1="224.08" y1="649" x2="224.08" y2="669" stroke="#000" stroke-width="4.0"/>
<line x1="319.17" y1="649" x2="319.17" y2="669" stroke="#000" stroke-width="4.0"/>
<line x1="414.25" y1="649" x2="414.25" y2="669" stroke="#000" stroke-width="4.0"/>
<line x1="509.33" y1="649" x2="509.33" y2="669" stroke="#000" stroke-width="4.0"/>
<line x1="604.42" y1="649" x2="604.42" y2="669" stroke="#000" stroke-width="4.0"/>
<line x1="699.50" y1="649" x2="699.50" y2="669" stroke="#000" stroke-width="4.0"/>
<line x1="176.54" y1="649" x2="176.54" y2="665" stroke="#000" stroke-width="4.0"/>
<line x1="271.62" y1="649" x2="271.62" y2="665" stroke="#000" stroke-width="4.0"/>
<line x1="366.71" y1="649" x2="366.71" y2="665" stroke="#000" stroke-width="4.0"/>
<line x1="461.79" y1="649" x2="461.79" y2="665" stroke="#000" stroke-width="4.0"/>
<line x1="556.88" y1="649" x2="556.88" y2="665" stroke="#000" stroke-width="4.0"/>
<line x1="651.96" y1="649" x2="651.96" y2="665" stroke="#000" stroke-width="4.0"/>
<rect x="129" y="137" width="570.5" height="512" fill="none" stroke="#000" stroke-width="4.0"/>
<line x1="886" y1="136.50" x2="907" y2="136.50" stroke="#000" stroke-width="4.0"/>
<line x1="886" y1="215.27" x2="907" y2="215.27" stroke="#000" stroke-width="4.0"/>
<line x1="886" y1="294.04" x2="907" y2="294.04" stroke="#000" stroke-width="4.0"/>
<line x1="886" y1="372.81" x2="907" y2="372.81" stroke="#000" stroke-width="4.0"/>
<line x1="886" y1="451.58" x2="907" y2="451.58" stroke="#000" stroke-width="4.0"/>
<line x1="886" y1="530.35" x2="907" y2="530.35" stroke="#000" stroke-width="4.0"/>
<line x1="886" y1="609.12" x2="907" y2="609.12" stroke="#000" stroke-width="4.0"/>
<line x1="890.5" y1="175.88" x2="907" y2="175.88" stroke="#000" stroke-width="4.0"/>
<line x1="890.5" y1="254.65" x2="907" y2="254.65" stroke="#000" stroke-width="4.0"/>
<line x1="890.5" y1="333.42" x2="907" y2="333.42" stroke="#000" stroke-width="4.0"/>
<line x1="890.5" y1="412.19" x2="907" y2="412.19" stroke="#000" stroke-width="4.0"/>
<line x1="890.5" y1="490.96" x2="907" y2="490.96" stroke="#000" stroke-width="4.0"/>
<line x1="890.5" y1="569.73" x2="907" y2="569.73" stroke="#000" stroke-width="4.0"/>
<line x1="890.5" y1="648.50" x2="907" y2="648.50" stroke="#000" stroke-width="4.0"/>
<line x1="907.00" y1="648.5" x2="907.00" y2="669.5" stroke="#000" stroke-width="4.0"/>
<line x1="1094.50" y1="648.5" x2="1094.50" y2="669.5" stroke="#000" stroke-width="4.0"/>
<line x1="1282.00" y1="648.5" x2="1282.00" y2="669.5" stroke="#000" stroke-width="4.0"/>
<line x1="1469.50" y1="648.5" x2="1469.50" y2="669.5" stroke="#000" stroke-width="4.0"/>
<line x1="1000.75" y1="648.5" x2="1000.75" y2="665.0" stroke="#000" stroke-width="4.0"/>
<line x1="1188.25" y1="648.5" x2="1188.25" y2="665.0" stroke="#000" stroke-width="4.0"/>
<line x1="1375.75" y1="648.5" x2="1375.75" y2="665.0" stroke="#000" stroke-width="4.0"/>
<rect x="907" y="136.5" width="570" height="512.0" fill="none" stroke="#000" stroke-width="4.0"/>
<text x="94.5" y="148.00" font-family="Liberation Serif" font-weight="bold" font-size="40" text-anchor="end">3</text>
<text x="94.5" y="226.77" font-family="Liberation Serif" font-weight="bold" font-size="40" text-anchor="end">2</text>
<text x="94.5" y="305.54" font-family="Liberation Serif" font-weight="bold" font-size="40" text-anchor="end">1</text>
<text x="94.5" y="384.31" font-family="Liberation Serif" font-weight="bold" font-size="40" text-anchor="end">0</text>
<text x="94.5" y="463.08" font-family="Liberation Serif" font-weight="bold" font-size="40" text-anchor="end">−1</text>
<text x="94.5" y="541.85" font-family="Liberation Serif" font-weight="bold" font-size="40" text-anchor="end">−2</text>
<text x="94.5" y="620.62" font-family="Liberation Serif" font-weight="bold" font-size="40" text-anchor="end">−3</text>
<text x="871.5" y="148.00" font-family="Liberation Serif" font-weight="bold" font-size="40" text-anchor="end">3</text>
<text x="871.5" y="226.77" font-family="Liberation Serif" font-weight="bold" font-size="40" text-anchor="end">2</text>
<text x="871.5" y="305.54" font-family="Liberation Serif" font-weight="bold" font-size="40" text-anchor="end">1</text>
<text x="871.5" y="384.31" font-family="Liberation Serif" font-weight="bold" font-size="40" text-anchor="end">0</text>
<text x="871.5" y="463.08" font-family="Liberation Serif" font-weight="bold" font-size="40" text-anchor="end">−1</text>
<text x="871.5" y="541.85" font-family="Liberation Serif" font-weight="bold" font-size="40" text-anchor="end">−2</text>
<text x="871.5" y="620.62" font-family="Liberation Serif" font-weight="bold" font-size="40" text-anchor="end">−3</text>
<text x="129.00" y="714" font-family="Liberation Serif" font-weight="bold" font-size="40" text-anchor="middle">0.00</text>
<text x="224.08" y="714" font-family="Liberation Serif" font-weight="bold" font-size="40" text-anchor="middle">0.03</text>
<text x="319.17" y="714" font-family="Liberation Serif" font-weight="bold" font-size="40" text-anchor="middle">0.06</text>
<text x="414.25" y="714" font-family="Liberation Serif" font-weight="bold" font-size="40" text-anchor="middle">0.09</text>
<text x="509.33" y="714" font-family="Liberation Serif" font-weight="bold" font-size="40" text-anchor="middle">0.12</text>
<text x="604.42" y="714" font-family="Liberation Serif" font-weight="bold" font-size="40" text-anchor="middle">0.15</text>
<text x="699.50" y="714" font-family="Liberation Serif" font-weight="bold" font-size="40" text-anchor="middle">0.18</text>
<text x="907.00" y="715" font-family="Liberation Serif" font-weight="bold" font-size="40" text-anchor="middle">0.0</text>
<text x="1094.50" y="715" font-family="Liberation Serif" font-weight="bold" font-size="40" text-anchor="middle">0.2</text>
<text x="1282.00" y="715" font-family="Liberation Serif" font-weight="bold" font-size="40" text-anchor="middle">0.4</text>
<text x="1469.50" y="715" font-family="Liberation Serif" font-weight="bold" font-size="40" text-anchor="middle">0.6</text>
<text x="414.3" y="775.3" font-family="Liberation Serif" font-weight="bold" font-size="43.5" text-anchor="middle">Position (µm)</text>
<text x="1192" y="767.6" font-family="Liberation Serif" font-weight="bold" font-size="43.5" text-anchor="middle">Position (µm)</text>
<text transform="translate(31.2,391.6) rotate(-90)" x="0" y="0" font-family="Liberation Serif" font-weight="bold" font-size="43.8" text-anchor="middle">Energy (eV)</text>
<text transform="translate(808.7,392.2) rotate(-90)" x="0" y="0" font-family="Liberation Serif" font-weight="bold" font-size="43.8" text-anchor="middle">Energy (eV)</text>
<text x="694" y="179.6" font-family="Liberation Serif" font-size="40" text-anchor="end">(a)</text>
<text x="1466.7" y="179.6" font-family="Liberation Serif" font-size="40" text-anchor="end">(b)</text>
<line x1="553" y1="16.1" x2="646" y2="16.1" stroke="#ff0000" stroke-width="4"/>
<text x="653" y="28.5" font-family="Liberation Serif" font-size="40">E<tspan font-size="28" dy="11.2">C</tspan><tspan dy="-11.2" dx="-1.2"> (eV)</tspan></text>
<line x1="786" y1="16.2" x2="878" y2="16.2" stroke="#0000ff" stroke-width="4"/>
<text x="886.5" y="28.7" font-family="Liberation Serif" font-size="40">F<tspan font-size="28" dy="11.2">n</tspan><tspan dy="-11.2" dx="-1"> (eV)</tspan></text>
<line x1="553" y1="74.3" x2="646" y2="74.3" stroke="#ff00ff" stroke-width="4"/>
<text x="653" y="86.5" font-family="Liberation Serif" font-size="40">F<tspan font-size="28" dy="11.2">p</tspan><tspan dy="-11.2" dx="0"> (eV)</tspan></text>
<line x1="786" y1="73.7" x2="878" y2="73.7" stroke="#808000" stroke-width="4"/>
<text x="887" y="86.8" font-family="Liberation Serif" font-size="40">E<tspan font-size="28" dy="11.2">V</tspan><tspan dy="-11.2" dx="-1.8"> (eV)</tspan></text>
</svg></body></html>
